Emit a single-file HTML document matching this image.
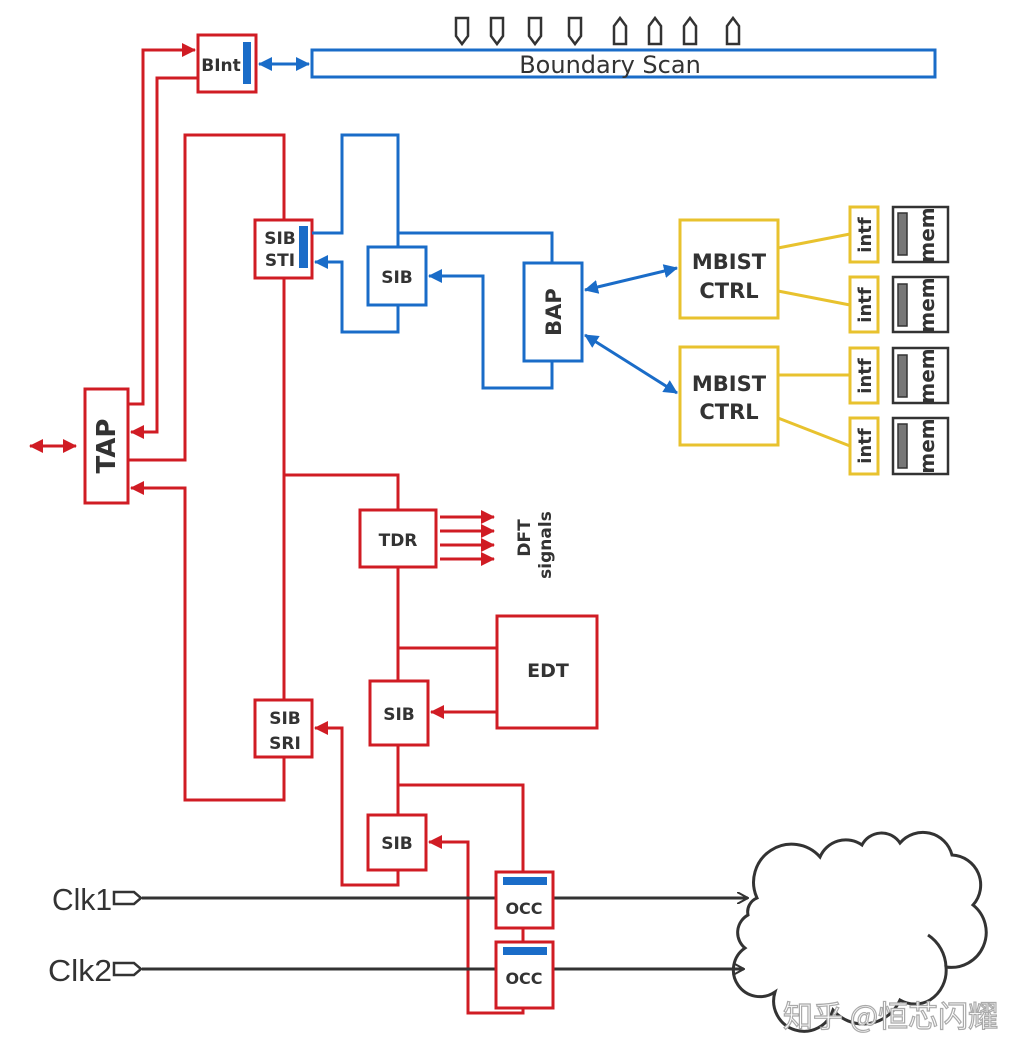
<!DOCTYPE html>
<html><head><meta charset="utf-8"><style>
html,body{margin:0;padding:0;background:#fff;}
svg{display:block;}
text{font-family:"DejaVu Sans","Liberation Sans",sans-serif;font-weight:bold;fill:#333;}
</style></head><body>
<svg width="1032" height="1055" viewBox="0 0 1032 1055" xmlns="http://www.w3.org/2000/svg">
<defs>
<marker id="arR" markerWidth="14" markerHeight="14" refX="13" refY="7" orient="auto-start-reverse" markerUnits="userSpaceOnUse"><path d="M0,0 L14,7 L0,14z" fill="#d01c24"/></marker>
<marker id="arB" markerWidth="14" markerHeight="14" refX="13" refY="7" orient="auto-start-reverse" markerUnits="userSpaceOnUse"><path d="M0,0 L14,7 L0,14z" fill="#1a6cc8"/></marker>
<marker id="arK" markerWidth="12" markerHeight="12" refX="11" refY="6" orient="auto" markerUnits="userSpaceOnUse"><path d="M0,0 L11,6 L0,12" fill="none" stroke="#333" stroke-width="2"/></marker>
</defs>

<g fill="#fff" stroke="#333" stroke-width="2.5">
<path d="M456,18 h12 v18 l-6,8 l-6,-8z"/>
<path d="M491,18 h12 v18 l-6,8 l-6,-8z"/>
<path d="M529,18 h12 v18 l-6,8 l-6,-8z"/>
<path d="M569,18 h12 v18 l-6,8 l-6,-8z"/>
<path d="M614,44 h12 v-18 l-6,-8 l-6,8z"/>
<path d="M649,44 h12 v-18 l-6,-8 l-6,8z"/>
<path d="M684,44 h12 v-18 l-6,-8 l-6,8z"/>
<path d="M727,44 h12 v-18 l-6,-8 l-6,8z"/>
</g>
<rect x="312" y="50" width="623" height="27" fill="#fff" stroke="#1a6cc8" stroke-width="3"/>
<text x="610" y="73" text-anchor="middle" font-size="24" style="font-weight:normal;font-family:'DejaVu Sans',sans-serif" fill="#333">Boundary Scan</text>
<line x1="259" y1="64" x2="309" y2="64" stroke="#1a6cc8" stroke-width="3" marker-start="url(#arB)" marker-end="url(#arB)"/>

<g fill="none" stroke="#d01c24" stroke-width="3">
<polyline points="128,404 143,404 143,50 195,50" marker-end="url(#arR)"/>
<polyline points="198,78 157,78 157,432 131,432" marker-end="url(#arR)"/>
<polyline points="128,460 185,460 185,135 284,135 284,220"/>
<polyline points="284,278 284,700"/>
<polyline points="284,757 284,800 185,800 185,488 131,488" marker-end="url(#arR)"/>
<polyline points="284,475 398,475 398,510"/>
<line x1="440" y1="517" x2="494" y2="517" marker-end="url(#arR)"/>
<line x1="440" y1="531" x2="494" y2="531" marker-end="url(#arR)"/>
<line x1="440" y1="545" x2="494" y2="545" marker-end="url(#arR)"/>
<line x1="440" y1="559" x2="494" y2="559" marker-end="url(#arR)"/>
<polyline points="398,567 398,681"/>
<polyline points="398,648 497,648"/>
<polyline points="497,712 431,712" marker-end="url(#arR)"/>
<polyline points="398,745 398,815"/>
<polyline points="398,785 523,785 523,872"/>
<polyline points="398,870 398,885 342,885 342,728 315,728" marker-end="url(#arR)"/>
<polyline points="523,928 523,942"/>
<polyline points="523,1008 523,1013 468,1013 468,842 429,842" marker-end="url(#arR)"/>
<line x1="76" y1="446" x2="30" y2="446" marker-start="url(#arR)" marker-end="url(#arR)"/>
</g>

<!-- Cloud -->
<path d="M757,898 A38,38 0 0 1 820,857 A28,28 0 0 1 862,845 A22,22 0 0 1 900,843 A30,30 0 0 1 952,855 A30,30 0 0 1 973,905 A35,35 0 0 1 946,967 A35,35 0 0 1 930,1000 A30,30 0 0 1 900,1000 A40,40 0 0 1 833,1010 A30,30 0 0 1 775,992 A25,25 0 0 1 745,948 A20,20 0 0 1 748,915 A15,15 0 0 1 757,898Z" fill="#fff" stroke="#333" stroke-width="3"/>
<path d="M928,935 A40,40 0 0 1 946,967" fill="none" stroke="#333" stroke-width="3"/>

<g stroke="#333" stroke-width="3" fill="none">
<line x1="142" y1="898" x2="748" y2="898" marker-end="url(#arK)"/>
<line x1="142" y1="969" x2="744" y2="969" marker-end="url(#arK)"/>
<path d="M114,892 h20 l7,6 l-7,6 h-20z" stroke-width="2.5" fill="#fff"/>
<path d="M114,963 h20 l7,6 l-7,6 h-20z" stroke-width="2.5" fill="#fff"/>
</g>
<text x="52" y="910" font-size="31" style="font-weight:normal;font-family:'Liberation Sans Narrow','Liberation Sans',sans-serif" fill="#333" textLength="60" lengthAdjust="spacingAndGlyphs">Clk1</text>
<text x="48" y="981" font-size="31" style="font-weight:normal;font-family:'Liberation Sans Narrow','Liberation Sans',sans-serif" fill="#333" textLength="64" lengthAdjust="spacingAndGlyphs">Clk2</text>

<g fill="#fff" stroke="#d01c24" stroke-width="3">
<rect x="198" y="35" width="58" height="57"/>
<rect x="85" y="389" width="43" height="114"/>
<rect x="255" y="220" width="57" height="58"/>
<rect x="255" y="700" width="57" height="57"/>
<rect x="360" y="510" width="76" height="57"/>
<rect x="497" y="616" width="100" height="112"/>
<rect x="370" y="681" width="58" height="64"/>
<rect x="368" y="815" width="58" height="55"/>
<rect x="496" y="872" width="57" height="56"/>
<rect x="496" y="942" width="57" height="66"/>
</g>
<rect x="243" y="42" width="8" height="42" fill="#1a6cc8"/>
<rect x="299" y="226" width="9" height="42" fill="#1a6cc8"/>
<rect x="503" y="877" width="44" height="8" fill="#1a6cc8"/>
<rect x="503" y="947" width="44" height="8" fill="#1a6cc8"/>
<text x="221" y="71" font-size="17" text-anchor="middle">BInt</text>
<text x="115" y="446" font-size="26" text-anchor="middle" transform="rotate(-90 115 446)" dy="0">TAP</text>
<text x="280" y="244" font-size="17" text-anchor="middle">SIB</text>
<text x="280" y="266" font-size="17" text-anchor="middle">STI</text>
<text x="285" y="724" font-size="17" text-anchor="middle">SIB</text>
<text x="285" y="749" font-size="17" text-anchor="middle">SRI</text>
<text x="398" y="546" font-size="17" text-anchor="middle">TDR</text>
<text x="548" y="677" font-size="19" text-anchor="middle">EDT</text>
<text x="399" y="720" font-size="17" text-anchor="middle">SIB</text>
<text x="397" y="849" font-size="17" text-anchor="middle">SIB</text>
<text x="524" y="914" font-size="16" text-anchor="middle">OCC</text>
<text x="524" y="984" font-size="16" text-anchor="middle">OCC</text>
<text transform="translate(530,538) rotate(-90)" font-size="17" text-anchor="middle">DFT</text>
<text transform="translate(551,545) rotate(-90)" font-size="17" text-anchor="middle">signals</text>

<g fill="none" stroke="#1a6cc8" stroke-width="3">
<polyline points="312,233 342,233 342,135 398,135 398,247"/>
<polyline points="398,233 552,233 552,263"/>
<polyline points="398,305 398,332 342,332 342,262 315,262" marker-end="url(#arB)"/>
<polyline points="552,361 552,388 483,388 483,276 429,276" marker-end="url(#arB)"/>
<line x1="585" y1="290" x2="677" y2="268" marker-start="url(#arB)" marker-end="url(#arB)"/>
<line x1="585" y1="335" x2="677" y2="393" marker-start="url(#arB)" marker-end="url(#arB)"/>
</g>
<g fill="#fff" stroke="#1a6cc8" stroke-width="3">
<rect x="368" y="247" width="58" height="58"/>
<rect x="524" y="263" width="58" height="98"/>
</g>
<text x="397" y="283" font-size="17" text-anchor="middle">SIB</text>
<text transform="translate(561,312) rotate(-90)" font-size="21" text-anchor="middle">BAP</text>

<g stroke="#e8c22e" stroke-width="3" fill="none">
<line x1="778" y1="248" x2="850" y2="234"/>
<line x1="778" y1="291" x2="850" y2="305"/>
<line x1="778" y1="375" x2="850" y2="375"/>
<line x1="778" y1="418" x2="850" y2="446"/>
<rect x="680" y="220" width="98" height="98" fill="#fff"/>
<rect x="680" y="347" width="98" height="98" fill="#fff"/>
<rect x="850" y="207" width="28" height="55" fill="#fff"/>
<rect x="850" y="277" width="28" height="55" fill="#fff"/>
<rect x="850" y="348" width="28" height="55" fill="#fff"/>
<rect x="850" y="418" width="28" height="56" fill="#fff"/>
</g>
<text x="729" y="269" font-size="21" text-anchor="middle">MBIST</text>
<text x="729" y="298" font-size="21" text-anchor="middle">CTRL</text>
<text x="729" y="391" font-size="21" text-anchor="middle">MBIST</text>
<text x="729" y="419" font-size="21" text-anchor="middle">CTRL</text>
<g font-size="18" text-anchor="middle">
<text transform="translate(871,235) rotate(-90)">intf</text>
<text transform="translate(871,305) rotate(-90)">intf</text>
<text transform="translate(871,376) rotate(-90)">intf</text>
<text transform="translate(871,446) rotate(-90)">intf</text>
</g>
<g fill="#fff" stroke="#333" stroke-width="2.5">
<rect x="893" y="207" width="55" height="55"/>
<rect x="893" y="277" width="55" height="55"/>
<rect x="893" y="348" width="55" height="55"/>
<rect x="893" y="418" width="55" height="56"/>
</g>
<g fill="#777" stroke="#333" stroke-width="1.5">
<rect x="898" y="213" width="9" height="42"/>
<rect x="898" y="284" width="9" height="42"/>
<rect x="898" y="355" width="9" height="42"/>
<rect x="898" y="424" width="9" height="44"/>
</g>
<g font-size="20" text-anchor="middle">
<text transform="translate(934,235) rotate(-90)">mem</text>
<text transform="translate(934,305) rotate(-90)">mem</text>
<text transform="translate(934,376) rotate(-90)">mem</text>
<text transform="translate(934,446) rotate(-90)">mem</text>
</g>

<text x="783" y="1027" font-size="30" style="font-weight:normal;font-family:'Noto Sans CJK SC',sans-serif;fill:#fff;stroke:#aaa;stroke-width:1.2">知乎 @恒芯闪耀</text>
</svg>
</body></html>
